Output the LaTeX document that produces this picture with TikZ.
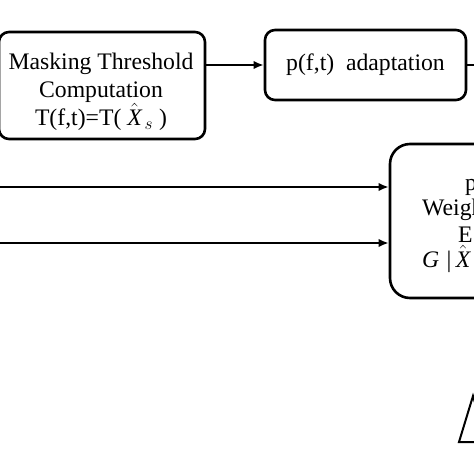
\documentclass[tikz,border=0pt]{standalone}
\usepackage{fontspec}
\setmainfont{Liberation Serif}
\usetikzlibrary{arrows.meta}
\newcommand{\itX}{\mbox{\itshape X}}
\tikzset{
  block/.style={draw,line width=2.6pt,rounded corners=10pt,inner sep=0pt},
  flow/.style={line width=2pt,-{Latex[length=10pt,width=8.5pt]}},
  lbl/.style={inner sep=0pt,align=center,font=\fontsize{23.7}{28}\selectfont},
  frag/.style={inner sep=0pt,anchor=base west,font=\fontsize{23.7}{28}\selectfont}
}
\begin{document}
\begin{tikzpicture}[x=1pt,y=-1pt]

	\useasboundingbox (0,0) rectangle (474,474);
	\clip (0,0) rectangle (474,474); % Cuts the picture at the frame...

	% the three blocks
	\node[block,minimum width=206pt,minimum height=107pt] (mask) at (102,85.5) {};
	\node[lbl] (maskLbl) at (101,92) {Masking Threshold\\Computation\\T(f,t)=T( $\hat{\itX}_{\,s}$ )};
	\node[block,lbl,minimum width=201pt,minimum height=70pt] (adapt) at (365.5,65) {p(f,t)\ \ adaptation};
	\node[block,rounded corners=20pt,minimum width=200pt,minimum height=154pt] (error) at (490,221) {};

	% what can be read of the last block
	\node[frag] (errP) at (465,190) {p};
	\node[frag] (errW) at (422,215) {Weigh};
	\node[frag] (errE) at (458,242) {E};
	\node[frag] (errG) at (422,267) {\itshape G\hspace{6pt}|\hspace{4pt}$\hat{\itX}$};

	% free ends at the frame
	\coordinate (inA) at (0,187);
	\coordinate (inB) at (0,243);
	\coordinate (outR) at (474,64);

	\draw[flow] (mask.east |- adapt.west) -- (adapt.west);
	\draw[line width=2pt] (adapt.east) -- (adapt.east -| outR);
	\draw[flow] (inA) -- (inA -| error.west);
	\draw[flow] (inB) -- (inB -| error.west);

	% corner of the triangle
	\draw[line width=2pt] (473,396) -- (459,442) -- (487,442) -- cycle;

\end{tikzpicture}
\end{document}
